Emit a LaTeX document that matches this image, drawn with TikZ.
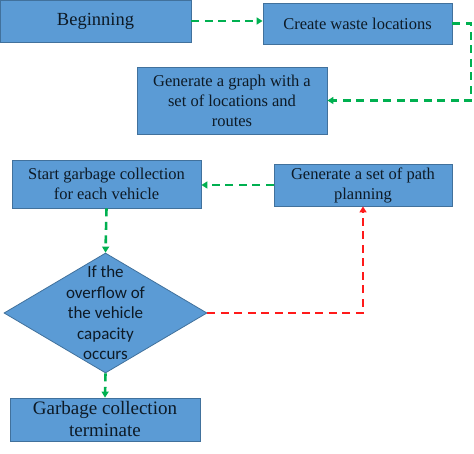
\documentclass[tikz,border=0pt]{standalone}
\usepackage{fontspec}
\setmainfont{Liberation Serif}
\newfontfamily\calibrifont{Carlito}
\usetikzlibrary{arrows.meta,shapes.geometric}

\definecolor{boxblue}{HTML}{5B9BD5}
\definecolor{boxedge}{HTML}{41719C}
\definecolor{flowgreen}{HTML}{00B050}
\definecolor{flowred}{HTML}{FF1A1A}
\definecolor{inktext}{HTML}{0D1A26}

\begin{document}
\begin{tikzpicture}[x=1pt,y=-1pt,
    box/.style={draw=boxedge,fill=boxblue,line width=0.8pt,align=center,inner sep=0pt,text=inktext,
        font=\fontsize{16.5}{20}\selectfont},
    flow/.style={draw=flowgreen,line width=2.6pt,dash pattern=on 8pt off 5.5pt,
        -{Triangle[length=6pt,width=7pt]}},
    back/.style={flow,draw=flowred,-{Triangle[length=6pt,width=7pt]}}]
    \useasboundingbox (0,0) rectangle (474,454);
    \node[box,minimum width=191pt,minimum height=42pt,font=\fontsize{18.5}{20}\selectfont] (begin) at (95.5,21) {Beginning};
    \node[box,minimum width=189pt,minimum height=41pt] (waste) at (357.5,23.5) {Create waste locations};
    \node[box,minimum width=190pt,minimum height=67pt] (graph) at (232,100.5) {Generate a graph with a\\ set of locations and\\ routes};
    \node[box,minimum width=189pt,minimum height=48pt] (start) at (106.5,184) {Start garbage collection\\ for each vehicle};
    \node[box,minimum width=178pt,minimum height=42pt] (path) at (363,185) {Generate a set of path\\ planning};
    \node[draw=boxedge,fill=boxblue,line width=0.8pt,diamond,inner sep=0pt,minimum width=203pt,minimum height=120pt] (decide) at (105.5,313) {};
    \node[align=center,text=inktext,font=\calibrifont\fontsize{17}{20.5}\selectfont] (decidetext) at (decide.center) {If the\\ overflow of\\ the vehicle\\ capacity\\ occurs};
    \node[box,minimum width=190pt,minimum height=43pt,font=\fontsize{19}{22}\selectfont] (stop) at (105,419.5) {Garbage collection\\ terminate};
    \coordinate (bend) at (471,0);
    \draw[flow] (begin.east) -- (begin.east -| waste.west);
    \draw[flow] (waste.east) -- (waste.east -| bend) |- (graph.east);
    \draw[flow] (path.west) -- (path.west -| start.east);
    \draw[flow] (start.south) -- (decide.north);
    \draw[back] (decide.east) -| (path.south);
    \draw[flow] (decide.south) -- (stop.north);
\end{tikzpicture}
\end{document}
